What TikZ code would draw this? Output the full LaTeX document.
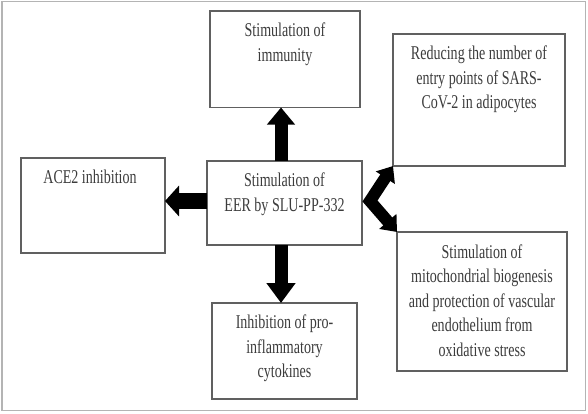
\documentclass[tikz,border=0pt]{standalone}
\usepackage{fontspec}
\setmainfont{Liberation Serif}[FakeStretch=0.72]
\usetikzlibrary{arrows.meta}
\definecolor{boxline}{HTML}{606060}
\definecolor{frameline}{HTML}{B4B4B4}
\definecolor{txt}{HTML}{3C3C3C}
\newcommand{\fstrut}{\rule{0pt}{18pt}}
\begin{document}
\begin{tikzpicture}[x=1pt,y=-1pt,
  box/.style={draw=boxline,line width=1.2pt,inner sep=0pt,outer sep=0pt,anchor=north west},
  lbl/.style={anchor=north,inner sep=0pt,align=center,text=txt,font=\fontsize{19.5}{24.5}\selectfont},
  fat/.style={draw=black,line width=13pt},
  chev/.style={draw=black,line width=12pt,line join=miter}
]
\useasboundingbox (0,0) rectangle (588,413);
\draw[frameline,line width=1.3pt] (2,1.5) rectangle (585.5,410.5);

\node[box,minimum width=150pt,minimum height=96.5pt] (top) at (210,11) {};
\node[box,minimum width=172pt,minimum height=132pt] (rt) at (393,34) {};
\node[box,minimum width=144pt,minimum height=95pt] (ace) at (21,158) {};
\node[box,minimum width=155pt,minimum height=84pt] (ctr) at (207,161) {};
\node[box,minimum width=145pt,minimum height=96pt] (bot) at (212,303) {};
\node[box,minimum width=170pt,minimum height=139pt] (rb) at (397,232) {};

\node[lbl] (topL) at ([yshift=-7.5pt]top.north) {\fstrut Stimulation of\\immunity};
\node[lbl] (rtL) at ([yshift=-7.5pt]rt.north) {\fstrut Reducing the number of\\entry points of SARS-\\CoV-2 in adipocytes};
\node[lbl] (aceL) at ([yshift=-7.5pt,xshift=-3pt]ace.north) {\fstrut ACE2 inhibition};
\node[lbl] (ctrL) at ([yshift=-7.5pt]ctr.north) {\fstrut Stimulation of\\EER by SLU-PP-332};
\node[lbl] (botL) at ([yshift=-7.5pt]bot.north) {\fstrut Inhibition of pro-\\inflammatory\\cytokines};
\node[lbl] (rbL) at ([yshift=-8pt]rb.north) {\fstrut Stimulation of\\mitochondrial biogenesis\\and protection of vascular\\endothelium from\\oxidative stress};

\coordinate (v) at (370,201);

\draw[fat,-{Triangle[width=27pt,length=17pt]}] ([xshift=-3.5pt]ctr.north) -- ([xshift=-3.5pt]ctr.north |- top.south);
\draw[fat,-{Triangle[width=28pt,length=20pt]}] ([xshift=-3.5pt]ctr.south) -- ([xshift=-3.5pt]ctr.south |- bot.north);
\draw[fat,line width=16pt,-{Triangle[width=30pt,length=14pt]}] ([yshift=2pt]ctr.west) -- ([yshift=2pt]ctr.west -| ace.east);
\draw[chev,{Triangle[width=22pt,length=14pt]}-{Triangle[width=22pt,length=14pt]}] (rt.south west) -- (v) -- (rb.north west);
\end{tikzpicture}
\end{document}
